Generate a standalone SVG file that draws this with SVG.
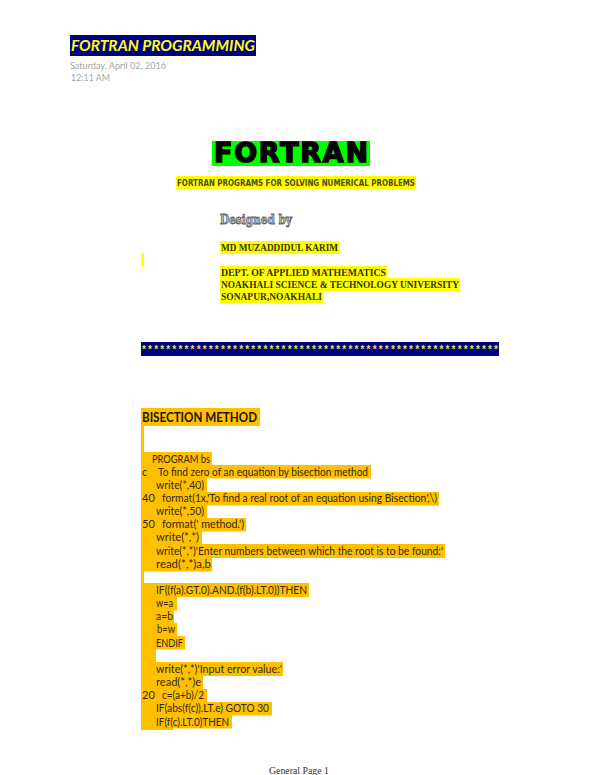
<svg xmlns="http://www.w3.org/2000/svg" width="600" height="775" viewBox="0 0 600 775">
<style>
text{white-space:pre}
.c{font-family:"Lato","Open Sans",sans-serif;font-size:11px;fill:#33290c}
.o{fill:#ffc000}
.y{fill:#ffff00}
.a{font-family:"Liberation Serif",serif;font-weight:bold;font-size:10.5px;fill:#333300}
.d{font-family:"Lato",sans-serif;font-size:9.5px;fill:#a6a6a6}
</style>
<rect width="600" height="775" fill="#fff"/>
<g id="header">
<rect x="70" y="35" width="186" height="21" fill="#000080"/>
<text x="71" y="51" font-family="Lato,sans-serif" font-weight="bold" font-style="italic" font-size="16" fill="#ffff00" textLength="184" lengthAdjust="spacingAndGlyphs">FORTRAN PROGRAMMING</text>
<text class="d" x="70" y="69" textLength="96" lengthAdjust="spacingAndGlyphs">Saturday, April 02, 2016</text>
<text class="d" x="71" y="81" textLength="39" lengthAdjust="spacingAndGlyphs">12:11 AM</text>
</g>
<g id="cover">
<rect x="212" y="141" width="158" height="25" fill="#00ff00"/>
<text x="214" y="161.500" font-family="DejaVu Sans,sans-serif" font-weight="bold" font-size="27" fill="#000" stroke="#000" stroke-width="1.500" textLength="154" lengthAdjust="spacing">FORTRAN</text>
<rect x="176" y="176" width="240" height="13" class="y"/>
<text x="177" y="186" font-family="DejaVu Sans,sans-serif" font-weight="bold" font-size="8" fill="#4d4d00" textLength="238" lengthAdjust="spacingAndGlyphs">FORTRAN PROGRAMS FOR SOLVING NUMERICAL PROBLEMS</text>
<text x="220" y="224" font-family="DejaVu Serif,serif" font-weight="bold" font-size="12" fill="#bbb" stroke="#666" stroke-width=".8" textLength="72" lengthAdjust="spacingAndGlyphs">Designed by</text>
<rect x="220" y="241" width="119" height="13" class="y"/>
<text class="a" x="221" y="251" textLength="117" lengthAdjust="spacingAndGlyphs">MD MUZADDIDUL KARIM</text>
<rect x="141.500" y="253" width="2.500" height="14" class="y"/>
<rect x="220" y="266" width="167" height="13" class="y"/>
<rect x="220" y="278" width="240" height="13" class="y"/>
<rect x="220" y="290" width="103" height="13" class="y"/>
<text class="a" x="221" y="276" textLength="165" lengthAdjust="spacingAndGlyphs">DEPT. OF APPLIED MATHEMATICS</text>
<text class="a" x="221" y="288" textLength="238" lengthAdjust="spacingAndGlyphs">NOAKHALI SCIENCE &amp; TECHNOLOGY UNIVERSITY</text>
<text class="a" x="221" y="300" textLength="101" lengthAdjust="spacingAndGlyphs">SONAPUR,NOAKHALI</text>
<rect x="141" y="342" width="358" height="14" fill="#000080"/>
<text x="142" y="353" font-family="Liberation Sans,sans-serif" font-weight="bold" font-size="10" fill="#e6e640" textLength="356" lengthAdjust="spacing">***********************************************************</text>
</g>
<g id="code-highlight" class="o">
<rect x="141" y="408" width="119" height="18"/>
<rect x="141" y="426" width="3" height="26"/>
<rect x="141" y="452" width="71" height="13.500"/>
<rect x="141" y="465" width="230" height="13.500"/>
<rect x="141" y="478" width="66" height="14"/>
<rect x="141" y="492" width="298" height="13.500"/>
<rect x="141" y="505" width="66" height="13.500"/>
<rect x="141" y="518" width="105" height="13.500"/>
<rect x="141" y="531" width="61" height="13.500"/>
<rect x="141" y="544" width="304" height="14"/>
<rect x="141" y="558" width="71" height="13.500"/>
<rect x="141" y="571" width="3" height="12.500"/>
<rect x="141" y="583" width="168" height="14"/>
<rect x="141" y="597" width="36" height="13.500"/>
<rect x="141" y="610" width="33" height="13.500"/>
<rect x="141" y="623" width="36" height="13.500"/>
<rect x="141" y="636" width="44" height="13.500"/>
<rect x="141" y="649" width="15" height="13.500"/>
<rect x="141" y="662" width="142" height="14"/>
<rect x="141" y="676" width="62" height="13.500"/>
<rect x="141" y="689" width="66" height="13.500"/>
<rect x="141" y="702" width="131" height="13.500"/>
<rect x="141" y="715" width="91" height="13.500"/>
<rect x="141" y="728" width="32" height="2"/>
</g>
<g id="code">
<text x="142" y="422" font-family="Lato,sans-serif" font-weight="bold" font-size="13.500" fill="#1a1505" textLength="115" lengthAdjust="spacingAndGlyphs">BISECTION METHOD</text>
<text class="c" x="152" y="463" textLength="58" lengthAdjust="spacingAndGlyphs">PROGRAM bs</text>
<text class="c" x="142" y="476">c</text>
<text class="c" x="158" y="476" textLength="210" lengthAdjust="spacingAndGlyphs">To find zero of an equation by bisection method</text>
<text class="c" x="156" y="489" textLength="48" lengthAdjust="spacingAndGlyphs">write(*,40)</text>
<text class="c" x="142" y="502">40</text>
<text class="c" x="162" y="502" textLength="275" lengthAdjust="spacingAndGlyphs">format(1x,'To find a real root of an equation using Bisection',\)</text>
<text class="c" x="156" y="515" textLength="48" lengthAdjust="spacingAndGlyphs">write(*,50)</text>
<text class="c" x="142" y="528">50</text>
<text class="c" x="162" y="528" textLength="82" lengthAdjust="spacingAndGlyphs">format(' method.')</text>
<text class="c" x="156" y="541" textLength="43" lengthAdjust="spacingAndGlyphs">write(*,*)</text>
<text class="c" x="156" y="555" textLength="287" lengthAdjust="spacingAndGlyphs">write(*,*)'Enter numbers between which the root is to be found:'</text>
<text class="c" x="156" y="568" textLength="55" lengthAdjust="spacingAndGlyphs">read(*,*)a,b</text>
<text class="c" x="156" y="594" textLength="151" lengthAdjust="spacingAndGlyphs">IF((f(a).GT.0).AND.(f(b).LT.0))THEN</text>
<text class="c" x="156" y="607" textLength="17" lengthAdjust="spacingAndGlyphs">w=a</text>
<text class="c" x="156" y="620" textLength="17" lengthAdjust="spacingAndGlyphs">a=b</text>
<text class="c" x="157" y="633" textLength="18" lengthAdjust="spacingAndGlyphs">b=w</text>
<text class="c" x="156" y="647" textLength="27" lengthAdjust="spacingAndGlyphs">ENDIF</text>
<text class="c" x="156" y="673" textLength="126" lengthAdjust="spacingAndGlyphs">write(*,*)'Input error value:'</text>
<text class="c" x="156" y="686" textLength="45" lengthAdjust="spacingAndGlyphs">read(*,*)e</text>
<text class="c" x="142" y="699">20</text>
<text class="c" x="162" y="699" textLength="42" lengthAdjust="spacingAndGlyphs">c=(a+b)/2</text>
<text class="c" x="156" y="712" textLength="113" lengthAdjust="spacingAndGlyphs">IF(abs(f(c)).LT.e) GOTO 30</text>
<text class="c" x="156" y="726" textLength="73" lengthAdjust="spacingAndGlyphs">IF(f(c).LT.0)THEN</text>
</g>
<g id="footer">
<text x="269" y="774" font-family="Liberation Serif,serif" font-size="10.500" fill="#333" textLength="60" lengthAdjust="spacingAndGlyphs">General Page 1</text>
</g>
</svg>
